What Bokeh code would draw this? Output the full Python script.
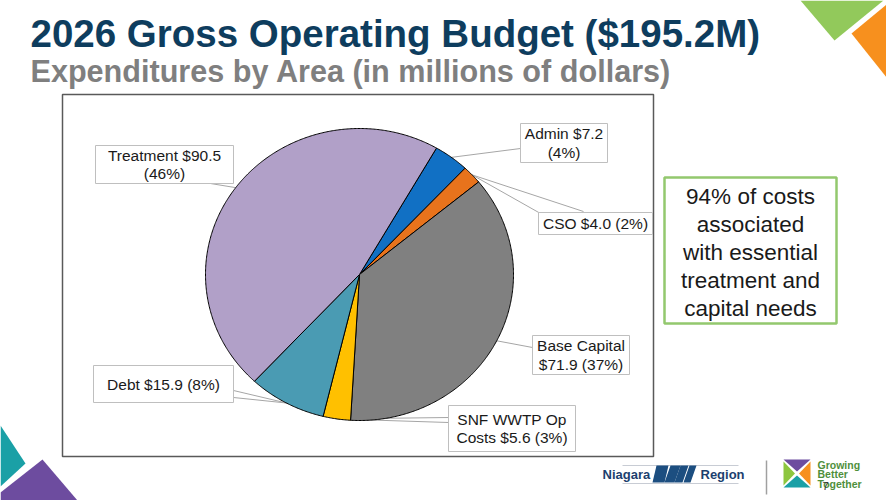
import numpy as np
from bokeh.plotting import figure
from bokeh.models import Range1d, ColumnDataSource
from bokeh.embed import file_html
from bokeh.resources import INLINE
from bokeh.core.properties import value

# ---------------- data ----------------
title_text = "2026 Gross Operating Budget ($195.2M)"
subtitle_text = "Expenditures by Area (in millions of dollars)"

categories = ["Admin", "CSO", "Base Capital", "SNF WWTP Op Costs", "Debt", "Treatment"]
values = [7.2, 4.0, 71.9, 5.6, 15.9, 90.5]
percents = [4, 2, 37, 3, 8, 46]
label_lines = [
    ["Admin $7.2", "(4%)"],
    ["CSO $4.0 (2%)"],
    ["Base Capital", "$71.9 (37%)"],
    ["SNF WWTP Op", "Costs $5.6 (3%)"],
    ["Debt $15.9 (8%)"],
    ["Treatment $90.5", "(46%)"],
]
callout_lines = ["94% of costs", "associated", "with essential", "treatment and", "capital needs"]

# ---------------- style / layout ----------------
slice_colors = ["#1170C4", "#E8731C", "#808080", "#FFC000", "#4A9BB3", "#B1A0C8"]
FONT = value("Liberation Sans")
# label boxes: left, right, top, bottom (screen px)
label_boxes = [
    (520, 607, 123, 162),
    (538, 652, 212, 234),
    (532, 629, 335, 374),
    (448, 575, 405, 451),
    (93, 233, 365, 402),
    (95, 233, 145, 183),
]
# leader line end points on the label boxes (category index, x, y)
leader_ends = [
    (0, 520, 148),
    (1, 540, 213), (1, 583, 211),
    (2, 532, 347),
    (3, 448, 422), (3, 448, 417),
    (4, 233, 390), (4, 233, 397),
    (5, 210, 183),
]
cx, cy, rx, ry = 359, 274, 154, 146
start_deg = 30.0

p = figure(width=886, height=500, x_range=Range1d(0, 886), y_range=Range1d(500, 0),
           output_backend="svg", toolbar_location=None, min_border=0,
           x_axis_type=None, y_axis_type=None)
p.outline_line_color = None
p.background_fill_color = "white"
p.border_fill_color = "white"

# corner decorations
p.patch([800, 883, 834], [0, 0, 40], fill_color="#92C95B", line_color=None)
p.patch([851, 886, 886], [33, 4, 77], fill_color="#F7901E", line_color=None)
p.patch([0, 25, 0], [425, 463, 486], fill_color="#1AA0A6", line_color=None)
p.patch([0, 42, 77, 0], [492, 459, 500, 500], fill_color="#6D4C9F", line_color=None)

# titles
p.text(x=[30], y=[33], text=[title_text], text_font=FONT, text_font_size="38.5px",
       text_font_style="bold", text_color="#0E3D5E", text_baseline="middle")
p.text(x=[30], y=[70], text=[subtitle_text], text_font=FONT, text_font_size="30.6px",
       text_font_style="bold", text_color="#7F7F7F", text_baseline="middle")

# chart frame
p.quad(left=[62], right=[653], top=[94], bottom=[456], fill_color="white",
       line_color="#595959", line_width=1.5)

# pie geometry from values
total = sum(values)
cum = np.concatenate([[0], np.cumsum(values)])
xs, ys, mx, my = [], [], [], []
for i in range(len(values)):
    t0 = start_deg + 360.0 * cum[i] / total
    t1 = start_deg + 360.0 * cum[i + 1] / total
    t = np.radians(np.linspace(t0, t1, max(6, int((t1 - t0) * 2))))
    xs.append([cx] + list(cx + rx * np.sin(t)) + [cx])
    ys.append([cy] + list(cy - ry * np.cos(t)) + [cy])
    tm = np.radians((t0 + t1) / 2)
    mx.append(cx + rx * np.sin(tm))
    my.append(cy - ry * np.cos(tm))

# leader lines
lx0 = [mx[i] for i, _, _ in leader_ends]
ly0 = [my[i] for i, _, _ in leader_ends]
lx1 = [x for _, x, _ in leader_ends]
ly1 = [y for _, _, y in leader_ends]
p.segment(x0=lx0, y0=ly0, x1=lx1, y1=ly1, line_color="#A6A6A6", line_width=1)

pie_src = ColumnDataSource(dict(xs=xs, ys=ys, color=slice_colors, cat=categories, val=values))
p.patches("xs", "ys", source=pie_src, fill_color="color", line_color="black", line_width=1)

# label boxes
p.quad(left=[b[0] for b in label_boxes], right=[b[1] for b in label_boxes],
       top=[b[2] for b in label_boxes], bottom=[b[3] for b in label_boxes],
       fill_color="white", line_color="#BFBFBF", line_width=1)
tx, ty, tt = [], [], []
for lines, b in zip(label_lines, label_boxes):
    xmid = (b[0] + b[1]) / 2
    ymid = (b[2] + b[3]) / 2
    n = len(lines)
    for k, s in enumerate(lines):
        tx.append(xmid)
        ty.append(ymid + (k - (n - 1) / 2) * 18.5)
        tt.append(s)
p.text(x=tx, y=ty, text=tt, text_font=FONT, text_font_size="15.5px", text_color="#1A1A1A",
       text_align="center", text_baseline="middle")

# callout box
p.quad(left=[664], right=[836], top=[177], bottom=[323], fill_color="white",
       line_color="#93C86E", line_width=2.5)
p.text(x=[750] * len(callout_lines), y=[196 + 28 * k for k in range(len(callout_lines))],
       text=callout_lines, text_font=FONT, text_font_size="22.5px", text_color="#1A1A1A",
       text_align="center", text_baseline="middle")

# footer logos
p.segment(x0=[622, 622], y0=[465, 483], x1=[738, 738], y1=[465, 483], line_color="#C8CCD4", line_width=1)
p.text(x=[602], y=[474], text=["Niagara"], text_font=FONT, text_font_size="13px",
       text_font_style="bold", text_color="#1C3F6E", text_baseline="middle")
p.text(x=[700], y=[474], text=["Region"], text_font=FONT, text_font_size="13px",
       text_font_style="bold", text_color="#1C3F6E", text_baseline="middle")
bar_x = [[652, 664, 668, 656], [664, 674, 680, 670], [674, 682, 688, 680], [683, 690, 696, 689]]
bar_y = [[482, 482, 465, 465], [482, 482, 465, 465], [482, 482, 465, 465], [482, 482, 465, 465]]
p.patches(bar_x, bar_y, fill_color="#1C4E80", line_color=None)
p.segment(x0=[766], y0=[460], x1=[766], y1=[494], line_color="#A0A0A0", line_width=1.5)
p.patches([[783, 810, 796.5], [783, 783, 794.5], [810, 810, 798.5], [783, 810, 796.5]],
          [[459, 459, 471], [461, 485, 473], [461, 485, 473], [487, 487, 475]],
          fill_color=["#6D4C9F", "#8DC63F", "#F7901E", "#1AA0A6"], line_color=None)
p.text(x=[817, 817, 817], y=[464, 473.5, 483], text=["Growing", "Better", "Together"],
       text_font=FONT, text_font_size="10.5px", text_font_style="bold", text_color="#4F8F3C",
       text_baseline="middle")
p.text(x=[822], y=[485], text=["7"], text_font=FONT, text_font_size="11px",
       text_color="#333333", text_baseline="middle")

open("out.html", "w").write(file_html(p, INLINE))
